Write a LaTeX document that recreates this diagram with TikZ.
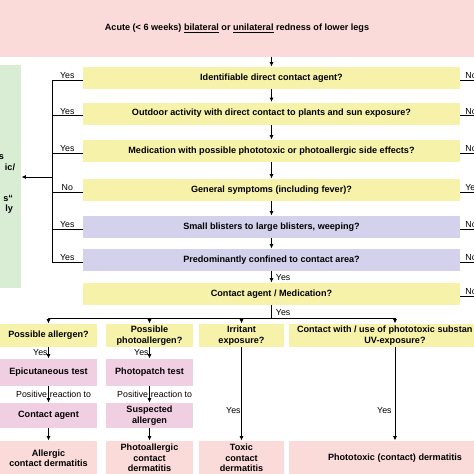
\documentclass[tikz,border=0pt]{standalone}
\usepackage{fontspec}
\setmainfont{Liberation Sans}
\usetikzlibrary{positioning,arrows.meta}
\definecolor{qyellow}{HTML}{F6F2A9}
\definecolor{qpurple}{HTML}{D3D1EB}
\definecolor{qpink}{HTML}{FADBDA}
\definecolor{qrose}{HTML}{F1CFE3}
\definecolor{qgreen}{HTML}{D8EDD3}
\tikzstyle{every node}=[inner sep=1pt,font=\fontsize{8.8}{10.5}\selectfont]
\tikzstyle{box}=[rectangle,align=center,inner sep=0pt,font=\bfseries\fontsize{9.1}{10.5}\selectfont]
\tikzstyle{question}=[box,fill=qyellow,minimum width=377pt,minimum height=22pt]
\tikzstyle{blister}=[question,fill=qpurple]
\tikzstyle{test}=[box,fill=qrose]
\tikzstyle{result}=[box,fill=qpink,minimum height=34pt]
\tikzstyle{arr}=[-{Latex[length=4.5pt,width=4pt]}]

\begin{document}
\begin{tikzpicture}[x=1pt,y=-1pt,line width=0.9pt]
  \useasboundingbox (0,0) rectangle (474,474);
  \clip (0,0) rectangle (474,474);
  % start and left branch
  \node[box,fill=qpink,minimum width=474pt,minimum height=57pt] (acute) at (237,28.5)
    {Acute (< 6 weeks) \underline{bilateral} or \underline{unilateral} redness of lower legs};
  \node[box,fill=qgreen,minimum width=21pt,minimum height=223pt] (green) at (10.5,176.5) {};
  \node[box,anchor=east] (g1) at (4.5,157) {s};
  \node[box,anchor=east] (g2) at (15.5,167) {ic/};
  \node[box,anchor=east] (g3) at (13.5,198) {s“};
  \node[box,anchor=east] (g4) at (13.5,209) {ly};
  % questions
  \node[question] (q1) at (271.5,78) {Identifiable direct contact agent?};
  \node[question] (q2) at (271.5,113.5) {Outdoor activity with direct contact to plants and sun exposure?};
  \node[question] (q3) at (271.5,151) {Medication with possible phototoxic or photoallergic side effects?};
  \node[question] (q4) at (271.5,190) {General symptoms (including fever)?};
  \node[blister] (q5) at (271.5,227) {Small blisters to large blisters, weeping?};
  \node[blister] (q6) at (271.5,260) {Predominantly confined to contact area?};
  \node[question] (q7) at (271.5,294) {Contact agent / Medication?};
  \draw[arr] (acute.south -| q1) -- (q1);
  \foreach \a/\b in {q1/q2,q2/q3,q3/q4,q4/q5,q5/q6}
    \draw[arr] (\a) -- (\b);
  \draw[arr] (q6) -- (q7) node[pos=0.55,right=3pt] {Yes};
  % left tree
  \coordinate (ltree) at (52,177);
  \foreach \q/\ans in {q1/Yes,q2/Yes,q3/Yes,q4/No,q5/Yes,q6/Yes}
    \draw ([yshift=-2pt]\q.west) -- ([yshift=-2pt]\q.west -| ltree)
      node[midway,above,inner sep=0.5pt] {\ans};
  \draw ([yshift=-2pt]q1.west -| ltree) -- ([yshift=-2pt]q6.west -| ltree);
  \draw[arr] (ltree) -- (green.east |- ltree);
  % right stubs
  \foreach \q/\ans in {q1/No,q2/No,q3/No,q4/Yes,q5/No,q6/No,q7/No}
    \draw ([yshift=-2pt]\q.east) -- ++(20,0)
      node[pos=0.2,above right,inner sep=0.5pt] {\ans};
  % second level
  \node[question,minimum width=97pt,minimum height=23pt] (a1) at (48.5,335.5) {Possible allergen?};
  \node[question,minimum width=87pt,minimum height=23pt] (b1) at (149.5,335.5) {Possible\\photoallergen?};
  \node[question,minimum width=85pt,minimum height=23pt] (c1) at (241.5,335.5) {Irritant\\exposure?};
  \node[question,minimum width=212pt,minimum height=23pt] (d1) at (395,335.5)
    {\makebox[196pt][l]{Contact with / use of phototoxic substan}\\UV-exposure?};
  \coordinate (split) at (271.5,318);
  \draw (q7) -- (split) node[pos=0.6,right=3pt] {Yes};
  \draw (a1.north |- split) -- (d1.north |- split);
  \foreach \b in {a1,b1,c1,d1}
    \draw[arr] (\b.north |- split) -- (\b.north);
  % tests
  \node[test,minimum width=97pt,minimum height=27pt] (a2) at (48.5,372.5) {Epicutaneous test};
  \node[test,minimum width=87pt,minimum height=27pt] (b2) at (149.5,372.5) {Photopatch test};
  \node[test,minimum width=97pt,minimum height=25pt] (a3) at (48.5,415.5) {Contact agent};
  \node[test,minimum width=87pt,minimum height=25pt] (b3) at (149.5,415.5) {Suspected\\allergen};
  % results
  \node[result,minimum width=97pt] (a4) at (48.5,458) {Allergic\\contact dermatitis};
  \node[result,minimum width=87pt] (b4) at (149.5,458) {Photoallergic\\contact\\dermatitis};
  \node[result,minimum width=85pt] (c4) at (241.5,458) {Toxic\\contact\\dermatitis};
  \node[result,minimum width=212pt] (d4) at (395,458) {Phototoxic (contact) dermatitis};
  \foreach \t in {a,b}{
    \draw[arr] (\t1) -- (\t2) node[midway,left,inner sep=0.5pt] {Yes};
    \draw[arr] (\t2) -- (\t3) node[midway,left] {Positive} node[midway,right] {reaction to};
    \draw[arr] (\t3) -- (\t4);
  }
  \draw[arr] (c1) -- (c4) node[pos=0.68,left,inner sep=0.5pt] {Yes};
  \draw[arr] (d1) -- (d4) node[pos=0.68,left=2pt] {Yes};
\end{tikzpicture}
\end{document}
